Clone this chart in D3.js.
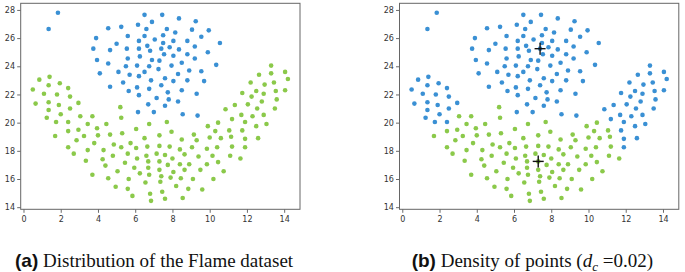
<!DOCTYPE html>
<html>
<head>
<meta charset="utf-8">
<script src="https://cdn.jsdelivr.net/npm/d3@7"></script>
<style>
  html, body { margin: 0; padding: 0; background: #fff; }
  svg { display: block; }
</style>
</head>
<body>
<svg id="chart" width="685" height="272"></svg>
<script>
// ---- Flame dataset ----
// Cluster 1 (upper, blue)
const cluster1X = [1.85,1.35,
  3.9,3.75,3.95,4.1,4.55,5.25,5.0,4.65,4.55,5.1,4.65,5.35,5.6,5.55,5.6,5.5,5.7,5.65,
  6.15,6.6,6.5,6.9,7.45,7.7,6.5,6.2,7.05,7.5,6.65,6.2,7.4,7.5,6.8,7.55,6.25,6.9,7.3,
  6.1,6.75,6.5,7.25,6.2,6.85,7.6,6.1,6.75,7.4,7.15,6.2,6.7,7.6,7.8,7.85,
  8.35,9.25,8.15,9.05,9.95,9.55,8.05,8.8,10.55,8.35,9.2,8.05,8.8,9.9,9.2,8.5,7.95,10.35,
  8.9,9.55,8.3,8.05,8.8,9.7,8.5,9.3,8.3,7.75,
  6.15,7.0,8.55,9.35];
const cluster1Y = [27.8,26.65,
  26.0,25.25,24.45,23.5,26.7,26.8,25.6,25.15,24.2,23.6,22.55,22.85,26.15,25.25,24.55,24.0,23.4,22.25,
  26.95,26.65,27.65,27.15,27.65,26.65,26.15,25.8,25.9,26.2,25.45,25.25,25.25,25.65,25.1,24.85,24.7,24.45,24.4,
  24.05,24.0,23.6,23.8,23.3,23.0,23.15,22.5,22.4,22.65,21.75,21.95,21.3,21.2,21.65,25.35,
  27.4,27.2,26.4,26.6,26.55,26.1,25.8,25.8,25.65,25.2,25.4,24.75,24.85,25.0,24.55,24.25,24.05,24.1,
  23.7,23.65,23.45,22.95,23.0,22.95,22.3,22.05,21.5,22.15,
  20.75,20.75,20.6,20.5];

// Cluster 2 (lower, green)
const cluster2X = [1.4,0.85,0.5,0.65,1.1,1.35,1.95,2.4,1.8,2.5,2.95,1.9,1.35,1.35,1.25,1.75,2,2.5,1.7,2.4,
  3.05,3.7,3.45,2.95,2.4,2.4,2.85,3.25,3.95,2.7,3.45,3.8,4,4.45,4.65,4.85,4.3,3.35,3.7,4.4,
  4.25,4.8,5.25,5.75,5.3,6.05,6.5,6.05,5.6,5.45,5.05,4.55,4.95,5.85,5.6,5.65,5.95,6.25,6.1,6.6,
  6.65,7.3,7.85,7.15,7.6,6.7,7.3,6.7,7.3,6.75,7.4,6.55,7.35,6.8,7.45,6.85,7.6,
  5.2,5.25,6.75,7.3,
  7.7,7.95,8.4,9.05,9.85,10.4,11.2,11.9,8.65,8.0,9.4,10.15,11.1,11.65,7.75,8.4,8.9,9.85,10.45,
  8.05,8.65,9.5,10.75,7.9,8.45,9.1,10.2,8.2,8.85,9.6,8.55,8.5,9.15,9.3,10.0,10.6,11.15,11.9,12.6,
  10.3,11.05,11.75,9.9,10.45,12.5,13.05,11.2,11.9,11.7,12.3,12.9,
  13.3,12.65,13.3,14.05,14.2,12.2,12.95,13.45,12.5,12.9,13.55,14.05,11.75,12.25,12.8,13.6,
  11.35,12.05,12.55,13.5,10.85];
const cluster2Y = [23.25,23.05,22.35,21.35,22.05,22.65,22.8,22.45,22,21.85,21.4,21.25,21.45,20.9,20.35,20.05,20.6,21,19.05,20.05,
  20.45,20.45,19.9,19.5,19.4,18.25,18.75,19.05,19.6,17.8,18.05,18.55,19.1,19.9,19.15,18.45,18.05,17.3,16.3,16.95,
  17.4,17.65,18.25,18.55,19.25,19.55,18.9,18.2,17.8,17.15,16.55,16.05,15.45,14.8,15.3,16,16.8,16.4,17.45,17.65,
  18.3,18.35,18.3,17.8,17.7,17.25,17.25,16.8,16.65,16.3,16.2,15.75,15.8,14.95,15.1,14.45,14.6,
  21.1,20.35,19.9,19.1,
  20.05,19.35,18.1,18.25,18.15,18.25,18.3,18.25,17.75,17.45,17.6,17.65,17.65,17.45,17.0,17.05,17.05,17.05,17.2,
  16.5,16.65,16.65,16.55,16.1,16.05,16.0,16.0,15.5,15.3,15.25,14.65,18.8,19.15,18.75,18.95,18.9,19.0,18.85,18.9,
  19.4,19.45,19.45,19.75,20.0,19.75,19.9,20.25,20.05,20.55,20.45,20.55,
  24.05,23.4,23.5,23.6,23.1,22.85,22.7,22.85,22.25,22.05,22.25,22.3,22.1,21.85,21.5,21.65,
  21.25,21.3,21.0,21.0,20.95];

// Points of cluster 2 that the density-peak clustering (panel b) assigns to the upper cluster
const movedX = [1.4,0.85,0.5,0.65,1.1,1.35,1.95,2.4,1.8,2.5,2.95,1.9,1.35,1.35,1.25,1.75,2,2.5,2.4,
  11.2,11.9,11.7,12.3,12.9,11.75,12.5,13.05,11.9,12.6,11.9,
  13.3,12.65,13.3,14.05,14.2,12.2,12.95,13.45,12.5,12.9,13.55,14.05,11.75,12.25,12.8,13.6,
  11.35,12.05,12.55,13.5,10.85];
const movedY = [23.25,23.05,22.35,21.35,22.05,22.65,22.8,22.45,22,21.85,21.4,21.25,21.45,20.9,20.35,20.05,20.6,21,20.05,
  20.25,20.05,20.55,20.45,20.55,19.45,19.75,19.9,18.85,18.9,18.25,
  24.05,23.4,23.5,23.6,23.1,22.85,22.7,22.85,22.25,22.05,22.25,22.3,22.1,21.85,21.5,21.65,
  21.25,21.3,21.0,21.0,20.95];

// Cluster centres found in panel (b)
const centerX = [7.4, 7.3];
const centerY = [25.25, 17.25];

const xTicks = [0, 2, 4, 6, 8, 10, 12, 14];
const yTicks = [14, 16, 18, 20, 22, 24, 26, 28];
const xDomain = [-0.15, 14.85];
const yDomain = [13.85, 28.47];

const captionA = ["(a)", " Distribution of the Flame dataset"];
const captionB = ["(b)", " Density of points (", "d", "c", " =0.02)"];

const BLUE = "#3a90d4";
const GREEN = "#8bc94a";

// ---- build ----
const svg = d3.select("#chart");
const movedKey = new Set(movedX.map((x, i) => x + "," + movedY[i]));

const pointsA = [];
cluster1X.forEach((x, i) => pointsA.push({x, y: cluster1Y[i], c: 1}));
cluster2X.forEach((x, i) => pointsA.push({x, y: cluster2Y[i], c: 2}));
const pointsB = pointsA.map(p => ({x: p.x, y: p.y, c: (p.c === 2 && movedKey.has(p.x + "," + p.y)) ? 1 : p.c}));

function panel(left, pts, centers) {
  const top = 3.3, bottom = 209.3, width = 279.3;
  const x = d3.scaleLinear().domain(xDomain).range([left, left + width]);
  const y = d3.scaleLinear().domain(yDomain).range([bottom, top]);
  const g = svg.append("g");

  g.append("g").selectAll("circle").data(pts).join("circle")
    .attr("cx", d => x(d.x)).attr("cy", d => y(d.y)).attr("r", 2.3)
    .attr("fill", d => d.c === 1 ? BLUE : GREEN);

  if (centers) {
    const cg = g.append("g").attr("stroke", "#111").attr("stroke-width", 1.4);
    centers.forEach(c => {
      cg.append("line").attr("x1", x(c[0]) - 5.5).attr("x2", x(c[0]) + 5.5)
        .attr("y1", y(c[1])).attr("y2", y(c[1]));
      cg.append("line").attr("x1", x(c[0])).attr("x2", x(c[0]))
        .attr("y1", y(c[1]) - 6).attr("y2", y(c[1]) + 6);
    });
  }

  const ax = g.append("g").attr("transform", `translate(0,${bottom})`)
    .call(d3.axisBottom(x).tickValues(xTicks).tickFormat(d3.format("d")).tickSize(3.5).tickPadding(3.5));
  const ay = g.append("g").attr("transform", `translate(${left},0)`)
    .call(d3.axisLeft(y).tickValues(yTicks).tickFormat(d3.format("d")).tickSize(3.5).tickPadding(2.2));
  [ax, ay].forEach(a => {
    a.select(".domain").remove();
    a.selectAll("line").attr("stroke", "#444").attr("stroke-width", 0.8);
    a.selectAll("text").attr("font-family", "DejaVu Sans").attr("font-size", 8).attr("fill", "#333");
  });

  g.append("rect").attr("x", left).attr("y", top).attr("width", width).attr("height", bottom - top)
    .attr("fill", "none").attr("stroke", "#666").attr("stroke-width", 1);
}

panel(20.7, pointsA, null);
panel(399.5, pointsB, centerX.map((cx, i) => [cx, centerY[i]]));

// captions
const fs = 19;
const tA = svg.append("text").attr("x", 15).attr("y", 267).attr("font-size", fs).attr("fill", "#111");
tA.append("tspan").attr("font-family", "Liberation Sans, Arial, sans-serif").attr("font-weight", "bold").text(captionA[0]);
tA.append("tspan").attr("font-family", "Liberation Serif, Times New Roman, serif").text(captionA[1]);

const tB = svg.append("text").attr("x", 411.7).attr("y", 267).attr("font-size", fs).attr("fill", "#111")
  .attr("font-family", "Liberation Serif, Times New Roman, serif");
tB.append("tspan").attr("font-family", "Liberation Sans, Arial, sans-serif").attr("font-weight", "bold").text(captionB[0]);
tB.append("tspan").text(captionB[1]);
tB.append("tspan").attr("font-style", "italic").text(captionB[2]);
tB.append("tspan").attr("font-style", "italic").attr("font-size", 13).attr("dy", 3.5).text(captionB[3]);
tB.append("tspan").attr("dy", -3.5).text(captionB[4]);
</script>
</body>
</html>
